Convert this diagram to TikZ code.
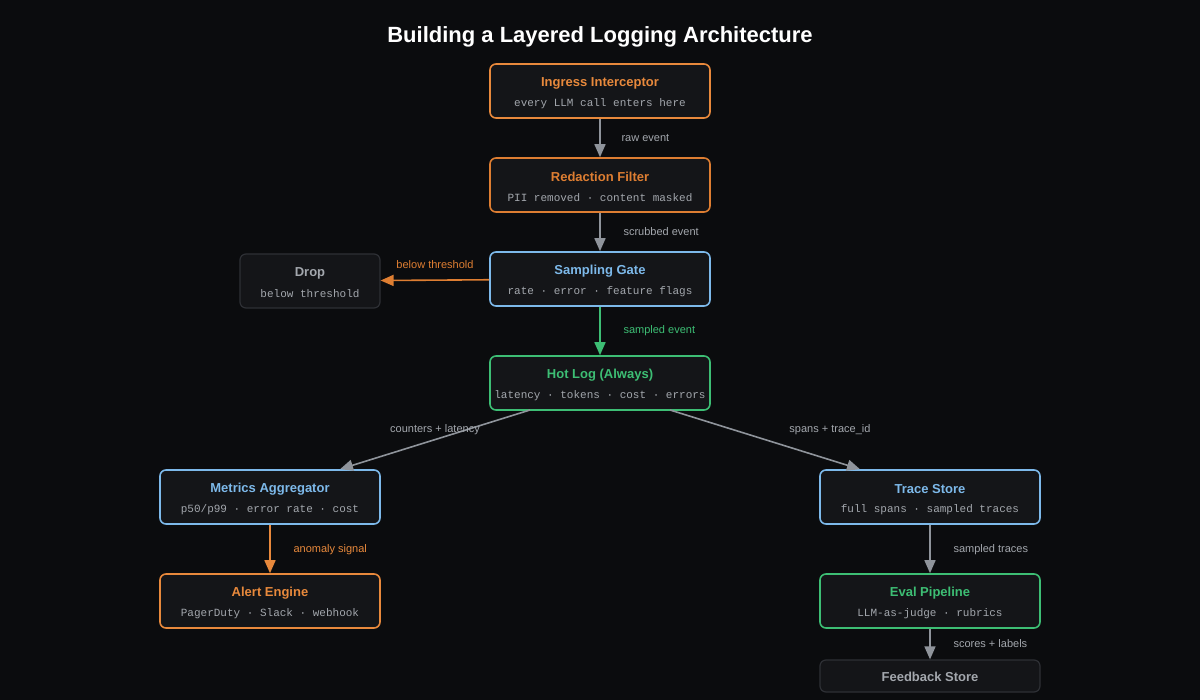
\documentclass[tikz,border=0pt]{standalone}
\usepackage{fontspec}
\setmainfont{Liberation Sans}
\setmonofont{Liberation Mono}
\usetikzlibrary{arrows.meta,positioning}
\definecolor{bg}{HTML}{0B0C0E}
\definecolor{nfill}{HTML}{141518}
\definecolor{orng}{HTML}{E8893C}
\definecolor{orng2}{HTML}{DE7E32}
\definecolor{blu}{HTML}{7DB9EA}
\definecolor{grn}{HTML}{3DBE74}
\definecolor{gbord}{HTML}{2E3035}
\definecolor{gtxt}{HTML}{A3A7AD}
\definecolor{arr}{HTML}{8F949B}
\begin{document}
\begin{tikzpicture}[x=1pt,y=-1pt,
 box/.style={draw=#1,line width=1.6pt,fill=nfill,rounded corners=6pt,minimum width=220pt,minimum height=54pt,inner sep=0pt},
 ttl/.style={font=\bfseries\fontsize{13}{15}\selectfont,text=#1},
 sub/.style={font=\ttfamily\fontsize{11}{13}\selectfont,text=gtxt},
 lab/.style={font=\fontsize{11}{13}\selectfont,text=#1,anchor=west},
 con/.style={draw=#1,line width=1.6pt,-{Triangle[length=13pt,width=11pt]}}]
\fill[bg] (0,0) rectangle (1200,700);
\useasboundingbox (0,0) rectangle (1200,700);
\node[font=\bfseries\fontsize{22}{26}\selectfont,text=white] (title) at (600,37) {Building a Layered Logging Architecture};
\newcommand\mybox[6]{%
 \node[box=#4] (#1) at (#2,#3) {};
 \node[ttl=#4] (#1t) at (#2,#3-8) {#5};
 \node[sub] (#1s) at (#2,#3+13) {#6};}
\mybox{ing}{600}{91}{orng}{Ingress Interceptor}{every LLM call enters here}
\mybox{red}{600}{185}{orng2}{Redaction Filter}{PII removed · content masked}
\mybox{samp}{600}{279}{blu}{Sampling Gate}{rate · error · feature flags}
\mybox{hot}{600}{383}{grn}{Hot Log (Always)}{latency · tokens · cost · errors}
\mybox{met}{270}{497}{blu}{Metrics Aggregator}{p50/p99 · error rate · cost}
\mybox{tr}{930}{497}{blu}{Trace Store}{full spans · sampled traces}
\mybox{al}{270}{601}{orng}{Alert Engine}{PagerDuty · Slack · webhook}
\mybox{ev}{930}{601}{grn}{Eval Pipeline}{LLM-as-judge · rubrics}
\node[box=gbord,minimum width=140pt,line width=1.2pt] (drop) at (310,281) {};
\node[ttl=gtxt] (dropt) at (310,273) {Drop};
\node[sub] (drops) at (310,294) {below threshold};
\node[box=gbord,minimum height=32pt,line width=1.2pt] (fb) at (930,676) {};
\node[ttl=gtxt] (fbt) at (930,677) {Feedback Store};
\draw[con=arr] (ing) -- (red);
\draw[con=arr] (red) -- (samp);
\draw[con=orng2] (samp) -- (drop);
\draw[con=grn] (samp) -- (hot);
\coordinate (h1) at (530,410); \coordinate (h2) at (670,410);
\draw[con=arr] (h1) -- (met.north -| 340,0);
\draw[con=arr] (h2) -- (tr.north -| 860,0);
\draw[con=orng] (met) -- (al);
\draw[con=arr] (tr) -- (ev);
\draw[con=arr] (ev) -- (fb);
\node[lab=gtxt] (l1) at (618,138) {raw event};
\node[lab=gtxt] (l2) at (620,232) {scrubbed event};
\node[lab=orng2,anchor=center] (l3) at (435,265) {below threshold};
\node[lab=grn] (l4) at (620,331) {sampled event};
\node[lab=gtxt,anchor=center] (l5) at (435,430) {counters + latency};
\node[lab=gtxt,anchor=center] (l6) at (830,430) {spans + trace\_id};
\node[lab=orng] (l7) at (290,550) {anomaly signal};
\node[lab=gtxt] (l8) at (950,550) {sampled traces};
\node[lab=gtxt] (l9) at (950,644) {scores + labels};
\end{tikzpicture}
\end{document}
